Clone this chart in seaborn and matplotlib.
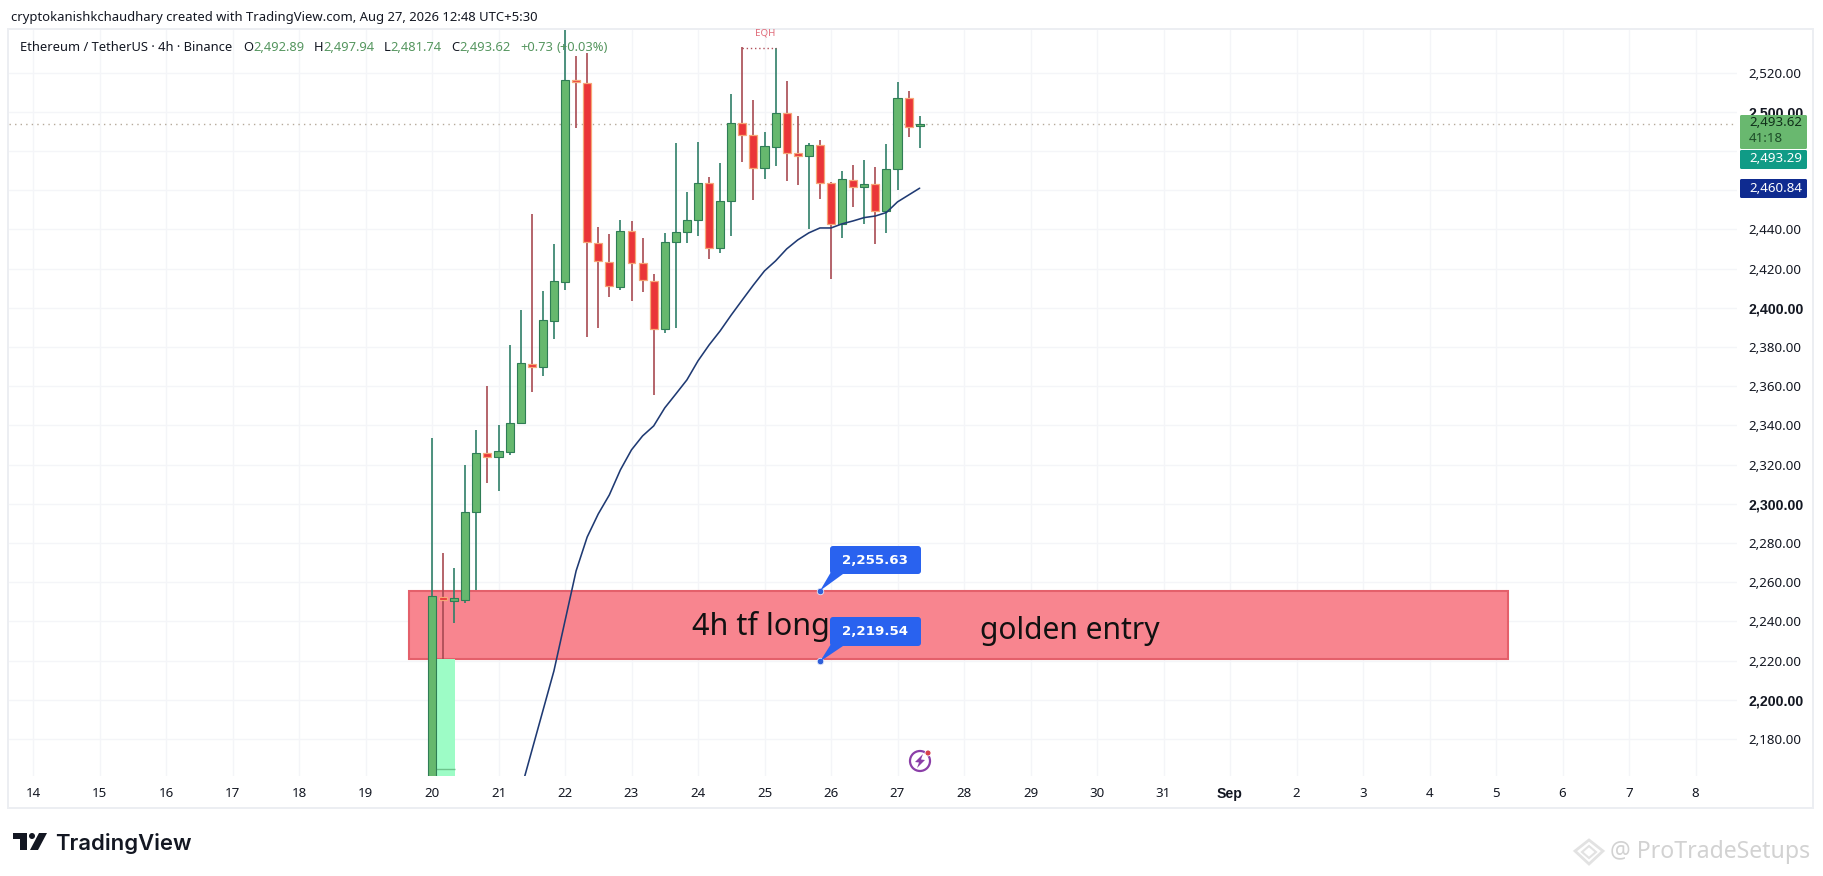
import matplotlib
matplotlib.use('Agg')
import matplotlib.pyplot as plt
from matplotlib.patches import Rectangle, FancyBboxPatch, Polygon, Circle
from matplotlib.transforms import Affine2D
import numpy as np
import pandas as pd
import seaborn as sns

W, H = 1824, 876

# candles, 4h apart, first one opens on the 20th (Aug)
opens = [2130, 2252.5, 2250.5, 2251, 2296, 2326, 2323.7, 2326.6, 2341, 2371.5, 2370, 2393.4, 2413.3, 2516.3, 2514.8,
         2433.2, 2423.5, 2410.8, 2439, 2422.7, 2413.8, 2389, 2433.4, 2438.5, 2444.6, 2463.5, 2430.4, 2454.3, 2494.1,
         2488, 2471.2, 2482.2, 2499.2, 2479, 2477.6, 2482.9, 2463.5, 2442.6, 2465.4, 2461.5, 2463, 2449.5, 2470.7,
         2506.9, 2492.89]
closes = [2253, 2251, 2252, 2296, 2326, 2323.9, 2326.8, 2341, 2371.7, 2370, 2393.8, 2413.7, 2516.2, 2515, 2433.6,
          2423.7, 2411, 2439, 2422.7, 2414, 2389, 2433.4, 2438.5, 2444.8, 2463.5, 2430.4, 2454.3, 2494.1, 2488,
          2471.2, 2482.4, 2499.2, 2478.8, 2477.6, 2482.9, 2463.5, 2442.6, 2465.6, 2461.5, 2463, 2449.5, 2470.7,
          2506.9, 2492.4, 2493.62]
highs = [2333.6, 2274.7, 2267, 2319.8, 2337.6, 2360, 2340, 2381, 2398.9, 2447.7, 2408.7, 2432.4, 2542, 2528.5, 2529.8,
         2441, 2437.5, 2444.8, 2444, 2435.5, 2417.2, 2438.3, 2484.2, 2459.2, 2484.7, 2466.9, 2474, 2509, 2532.9,
         2506, 2489.7, 2532.4, 2515.9, 2497.9, 2484.2, 2485.6, 2464.3, 2469.8, 2472.9, 2475.4, 2472, 2483.4, 2515.4,
         2510.8, 2497.94]
lows = [2100, 2221, 2239, 2249.4, 2256, 2310.8, 2306.5, 2325, 2341, 2357, 2365, 2384, 2409, 2491.6, 2385,
        2389.9, 2405.7, 2409, 2403.6, 2408.2, 2355.5, 2387.3, 2389.9, 2433.2, 2436.6, 2424.9, 2428.1, 2436.6, 2474.2,
        2455, 2465.6, 2472.3, 2464.7, 2462.7, 2440.2, 2455.3, 2414.9, 2435.6, 2451.3, 2442.8, 2432.6, 2438.3, 2460.1,
        2487.3, 2481.74]

# moving average, starts at candle 7
ema_start = 7
ema_values = [2133, 2153.5, 2173.9, 2194.3, 2214.7, 2240.2, 2265.7, 2283, 2294.8, 2304.5, 2317.3, 2327.5, 2334.6,
              2339.7, 2348.9, 2356, 2363.2, 2372.9, 2381, 2388.2, 2396.3, 2404, 2411.6, 2418.8, 2423.9, 2430, 2434.6,
              2438.2, 2440.7, 2440.7, 2442.8, 2444.3, 2446, 2446.8, 2448.6, 2454, 2457.5, 2461]

zone_low, zone_high = 2219.54, 2255.63
zone_drawn_low = 2220.8  # the box edge sits a little above its label
last_price = 2493.62
eqh_price = 2532.6

price_ticks = list(range(2180, 2521, 20))
bold_prices = [2200, 2300, 2400, 2500]
hidden_prices = [2480, 2460]  # covered by the price scale boxes
day_ticks = list(range(14, 40))
day_labels = [str(d) for d in range(14, 32)] + ['Sep'] + [str(d) for d in range(2, 9)]

sns.set_theme(style='white')
plt.rcParams['font.family'] = ['Noto Sans', 'DejaVu Sans']

TEXT = '#131722'
GREEN_LEG = '#55965f'

fig = plt.figure(figsize=(W / 100, H / 100), dpi=100)
pix = Affine2D().scale(1 / W, -1 / H).translate(0, 1) + fig.transFigure
ax = fig.add_axes([9 / W, 1 - 776 / H, (1737 - 9) / W, (776 - 30) / H])

candles = pd.DataFrame({'open': opens, 'close': closes, 'high': highs, 'low': lows})
candles['day'] = 20 + candles.index / 6
up = candles['close'] >= candles['open']

ax.set_xlim(20 + (9 - 432) / 66.5, 20 + (1737 - 432) / 66.5)
ax.set_ylim(2161.1, 2541.7)

# zone and the green box behind the candles
ax.add_patch(Rectangle((19.654, zone_drawn_low), 36.18 - 19.654, zone_high - zone_drawn_low, fc='#f8858f',
                       ec='#e4606b', lw=1.5, zorder=2))
ax.add_patch(Rectangle((19.94, 2161.1), 0.405, zone_drawn_low - 2161.1, fc='#9dfcc6', ec='none', zorder=2))
ax.hlines(2164.5, 20.06, 20.345, color='#6cc48c', lw=1, zorder=2)

ax.axhline(last_price, color='#b5a99a', lw=1, ls=(0, (1, 3)), zorder=2)

# wicks then bodies
ax.vlines(candles.loc[up, 'day'], candles.loc[up, 'low'], candles.loc[up, 'high'], color='#2f7f68', lw=1.2, zorder=3)
ax.vlines(candles.loc[~up, 'day'], candles.loc[~up, 'low'], candles.loc[~up, 'high'], color='#a84a52', lw=1.2, zorder=3)
body_low = candles[['open', 'close']].min(axis=1)
body_h = (candles['close'] - candles['open']).abs()
ax.bar(candles.loc[up, 'day'], body_h[up], bottom=body_low[up], width=0.122, color='#66b86e', edgecolor='#2f7d55',
       lw=0.8, zorder=4)
ax.bar(candles.loc[~up, 'day'], body_h[~up], bottom=body_low[~up], width=0.118, color='#ea3538', edgecolor='#f6a878',
       lw=0.9, zorder=4)

ema = pd.DataFrame({'day': candles['day'].values[ema_start:], 'value': ema_values})
sns.lineplot(data=ema, x='day', y='value', color='#1f3a73', lw=1.15, ax=ax, zorder=5)

# equal highs marker
ax.hlines(eqh_price, candles['day'][28], candles['day'][31], color='#b0505a', lw=1, ls=(0, (1, 2)), zorder=5)
fig.text(765, 33, 'EQH', transform=pix, color='#e06a78', fontsize=7, ha='center', va='center')

# grid, axes
ax.set_xticks(day_ticks)
ax.set_xticklabels(day_labels)
ax.set_yticks(price_ticks)
ax.set_yticklabels(['' if p in hidden_prices else f'{p:,.2f}' for p in price_ticks])
ax.yaxis.tick_right()
ax.grid(True, color='#f4f5f8', lw=1)
ax.set_axisbelow(True)
ax.set_xlabel('')
ax.set_ylabel('')
ax.tick_params(axis='both', length=0, labelsize=9.6, labelcolor=TEXT)
ax.tick_params(axis='x', pad=8)
ax.tick_params(axis='y', pad=8.5)
for lab, p in zip(ax.get_yticklabels(), price_ticks):
    if p in bold_prices:
        lab.set_fontfamily('Liberation Sans')
        lab.set_fontweight('bold')
        lab.set_fontsize(10.2)
for lab in ax.get_xticklabels():
    if lab.get_text() == 'Sep':
        lab.set_fontfamily('Liberation Sans')
        lab.set_fontweight('bold')
        lab.set_fontsize(10.2)
sns.despine(ax=ax, left=True, bottom=True, top=True, right=True)

# outer frame
fig.add_artist(Rectangle((8, 29), 1805, 779, transform=pix, fill=False, ec='#eceef2', lw=1.4))

# header and legend line
fig.text(11, 18, 'cryptokanishkchaudhary created with TradingView.com, Aug 27, 2026 12:48 UTC+5:30', transform=pix,
         color=TEXT, fontsize=9.4, va='center')
legend_bits = [(20, 'Ethereum / TetherUS · 4h · Binance', TEXT), (243, 'O', TEXT), (253, '2,492.89', GREEN_LEG),
               (314, 'H', TEXT), (323, '2,497.94', GREEN_LEG), (384, 'L', TEXT), (390, '2,481.74', GREEN_LEG),
               (451, 'C', TEXT), (459, '2,493.62', GREEN_LEG), (520, '+0.73', GREEN_LEG), (557, '(+0.03%)', GREEN_LEG)]
for x, s, c in legend_bits:
    fig.text(x, 47.5, s, transform=pix, color=c, fontsize=9.3, va='center', zorder=10)

# zone text
ax.text(20 + (692 - 432) / 66.5, 2237.5, '4h tf long', color='#111111', fontsize=22, va='center', zorder=6)
ax.text(20 + (980 - 432) / 66.5, 2235, 'golden entry', color='#111111', fontsize=21.6, va='center', zorder=6)

# blue price labels
for top, bot, base, price in [(546, 574, 575, zone_high), (617, 646, 647, zone_low)]:
    fig.add_artist(FancyBboxPatch((832, top + 2), 87, bot - top - 4, boxstyle='round,pad=2,rounding_size=3',
                                  transform=pix, fc='#2962ef', ec='none', zorder=8))
    dot_y = 111.8 + (2500 - price) * 1.96
    fig.add_artist(Polygon([(820, dot_y), (831, base - 3), (843, base - 1)], transform=pix, fc='#2962ef', ec='none',
                           zorder=8))
    ax.scatter([25.83], [price], s=22, color='#2f5fd8', edgecolor='#dfe7fb', lw=0.6, zorder=9, clip_on=False)
    fig.text(875.5, (top + bot) / 2, f'{price:,.2f}', transform=pix, color='white', fontsize=9.6, fontweight='bold',
             family='DejaVu Sans', ha='center', va='center', zorder=9)

# price scale labels
boxes = [(115, 149, '#69b86f'), (150, 169, '#109b86'), (179, 198, '#0f2b90')]
for top, bot, c in boxes:
    fig.add_artist(FancyBboxPatch((1741, top + 1), 65, bot - top - 2, boxstyle='round,pad=1,rounding_size=1.5',
                                  transform=pix, fc=c, ec='none', zorder=8))
for y, s, c, fw in [(123, '2,493.62', '#10301a', 'normal'), (139, '41:18', '#1d4d28', 'normal'),
                    (159, '2,493.29', 'white', 'normal'), (188.5, '2,460.84', 'white', 'normal')]:
    fig.text(1749, y, s, transform=pix, color=c, fontsize=9.6, fontweight=fw, va='center', zorder=9)

# lightning icon
fig.add_artist(Circle((920, 761), 10, transform=pix, fill=False, ec='#8b3fa8', lw=1.6, zorder=6))
fig.add_artist(Polygon([(923, 754), (915, 762), (919, 762.5), (917, 768), (925, 760), (921, 759.5)], transform=pix,
                       fc='#8b3fa8', ec='none', zorder=6))
fig.add_artist(Circle((928, 753), 3, transform=pix, fc='#d8404a', ec='white', lw=0.6, zorder=7))

# TradingView logo
logo = '#131722'
fig.add_artist(Polygon([(13, 833), (27, 833), (27, 850), (20, 850), (20, 839), (13, 839)], transform=pix, fc=logo,
                       ec='none'))
fig.add_artist(Circle((32, 836), 3, transform=pix, fc=logo, ec='none'))
fig.add_artist(Polygon([(39, 833), (47, 833), (38, 850), (30, 850)], transform=pix, fc=logo, ec='none'))
fig.text(55, 843, 'TradingView', transform=pix, color=logo, fontsize=15.9, fontweight='semibold', family='Inter',
         va='center')

# watermark
fig.add_artist(Polygon([(1589, 840), (1603, 851), (1589, 864), (1575, 851)], transform=pix, fill=False, ec='#e2e2e2',
                       lw=2))
fig.add_artist(Polygon([(1589, 846), (1596, 852), (1589, 858), (1582, 852)], transform=pix, fill=False, ec='#e2e2e2',
                       lw=1.5))
fig.text(1610, 852, '@ ProTradeSetups', transform=pix, color='#d2d2d2', fontsize=16.6, va='center')

plt.savefig('out.png', dpi=100)
